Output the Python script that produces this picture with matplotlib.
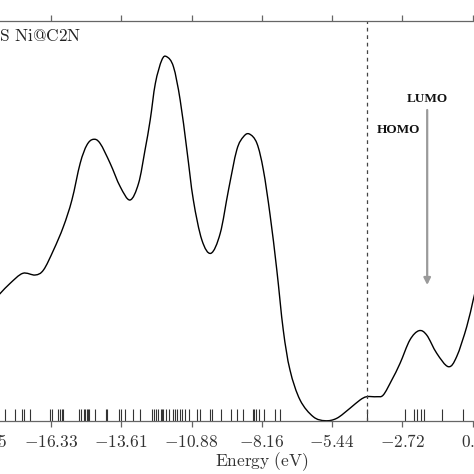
import matplotlib
matplotlib.use("Agg")
import matplotlib.pyplot as plt
from matplotlib.path import Path
from matplotlib.patches import PathPatch

plt.rcParams['mathtext.fontset'] = 'cm'

# Total DOS curve (energy in eV, DOS in arbitrary units)
energy = [-18.60, -18.28, -17.90, -17.41, -16.93, -16.61, -16.22, -15.84, -15.51, -15.19,
          -14.93, -14.68, -14.42, -14.03, -13.64, -13.26, -12.93, -12.68, -12.48, -12.28,
          -12.03, -11.84, -11.58, -11.32, -11.06, -10.81, -10.48, -10.13, -9.77, -9.45,
          -9.13, -8.87, -8.64, -8.35, -8.10, -7.84, -7.58, -7.33, -7.07, -6.68,
          -6.17, -5.71, -5.26, -4.75, -4.36, -4.10, -3.71, -3.46, -3.13, -2.81,
          -2.43, -2.08, -1.78, -1.39, -0.94, -0.62, -0.23, 0.02, 0.20]
dos = [11.9, 12.77, 13.77, 14.77, 14.60, 15.10, 17.10, 19.43, 22.10, 25.77,
       27.60, 28.17, 27.77, 25.77, 23.43, 22.10, 23.77, 27.10, 30.10, 33.77,
       36.10, 36.43, 35.43, 32.10, 27.10, 22.10, 18.10, 16.77, 18.77, 23.10,
       27.10, 28.43, 28.70, 27.77, 25.10, 20.60, 15.10, 9.10, 5.10, 2.10,
       0.43, 0.03, 0.27, 1.27, 2.10, 2.43, 2.43, 2.60, 4.10, 5.77,
       8.10, 9.03, 8.60, 6.77, 5.43, 6.43, 9.43, 12.10, 14.0]

# Eigenvalue positions (rug)
levels = [-18.09, -17.70, -17.44, -17.38, -17.15, -16.35, -16.28, -16.03, -15.96, -15.90,
          -15.84, -15.23, -15.15, -15.06, -15.00, -14.93, -14.87, -14.83, -14.61, -14.18,
          -14.16, -13.67, -13.62, -13.45, -13.15, -12.87, -12.42, -12.33, -12.25, -12.16,
          -12.07, -12.03, -11.99, -11.86, -11.74, -11.60, -11.52, -11.43, -11.32, -11.26,
          -11.13, -10.96, -10.68, -10.55, -10.16, -10.10, -9.74, -9.36, -9.11, -8.90,
          -8.51, -8.46, -8.38, -8.25, -8.07, -7.65, -7.45, -4.10, -2.60, -2.27,
          -2.14, -2.00, -1.88, -1.19, -0.36]

homo = -4.10
lumo = -1.76

tick_pos = [-19.05, -16.33, -13.61, -10.88, -8.16, -5.44, -2.72, 0.0]
tick_lab = ['-19.05', '-16.33', '-13.61', '-10.88', '-8.16', '-5.44', '-2.72', '0.0']

fig = plt.figure(figsize=(4.74, 4.74), dpi=100)
ax = fig.add_axes([-0.2021, 0.1118, 1.2538, 0.8445])
ax.set_xlim(-22.0, 1.0)
ax.set_ylim(0, 40.03)

# smooth curve through the read points (Catmull-Rom as cubic Bezier segments)
verts = [(energy[0], dos[0])]
codes = [Path.MOVETO]
n = len(energy)
for i in range(n - 1):
    p0 = (energy[max(i - 1, 0)], dos[max(i - 1, 0)])
    p1 = (energy[i], dos[i])
    p2 = (energy[i + 1], dos[i + 1])
    p3 = (energy[min(i + 2, n - 1)], dos[min(i + 2, n - 1)])
    c1 = (p1[0] + (p2[0] - p0[0]) / 6, p1[1] + (p2[1] - p0[1]) / 6)
    c2 = (p2[0] - (p3[0] - p1[0]) / 6, p2[1] - (p3[1] - p1[1]) / 6)
    verts += [c1, c2, p2]
    codes += [Path.CURVE4, Path.CURVE4, Path.CURVE4]
ax.add_patch(PathPatch(Path(verts, codes), facecolor='none', edgecolor='black',
                       lw=1.0, transform=ax.transData))

ax.vlines(levels, 0, 1.2, color='#333333', lw=0.8)
ax.axvline(homo, color='#444444', lw=0.9, ls=(0, (3, 3)))

ax.annotate('', xy=(lumo, 13.6), xytext=(lumo, 31.1),
            arrowprops=dict(arrowstyle='-|>', color='#9a9a9a', lw=1.6,
                            mutation_scale=10, shrinkA=0, shrinkB=0))
ax.text(lumo, 32.17, 'LUMO', ha='center', va='center', family='Liberation Serif',
        fontweight='bold', fontsize=9.5, color='#111111')
ax.text(-2.86, 29.1, 'HOMO', ha='center', va='center', family='Liberation Serif',
        fontweight='bold', fontsize=9.5, color='#111111')

ax.set_xticks(tick_pos)
ax.set_xticklabels(['$' + t + '$' for t in tick_lab], fontsize=12.5, color='#333333')
ax.set_yticks([])
ax.tick_params(axis='x', which='major', direction='out', length=4.5, width=0.9,
               color='#666666', top=True, labeltop=False, pad=4)
for s in ax.spines.values():
    s.set_color('#666666')
    s.set_linewidth(0.9)

ax.set_xlabel(r'$\mathrm{Energy\ (eV)}$', fontsize=12.5, color='#333333')
ax.xaxis.set_label_coords(0.602, -0.073)

fig.text(-27 / 474, (474 - 41) / 474, r'$\mathrm{DOS\ Ni@C2N}$', fontsize=12.5,
         ha='left', va='baseline', color='#222222')

fig.savefig('out.png', dpi=100)
